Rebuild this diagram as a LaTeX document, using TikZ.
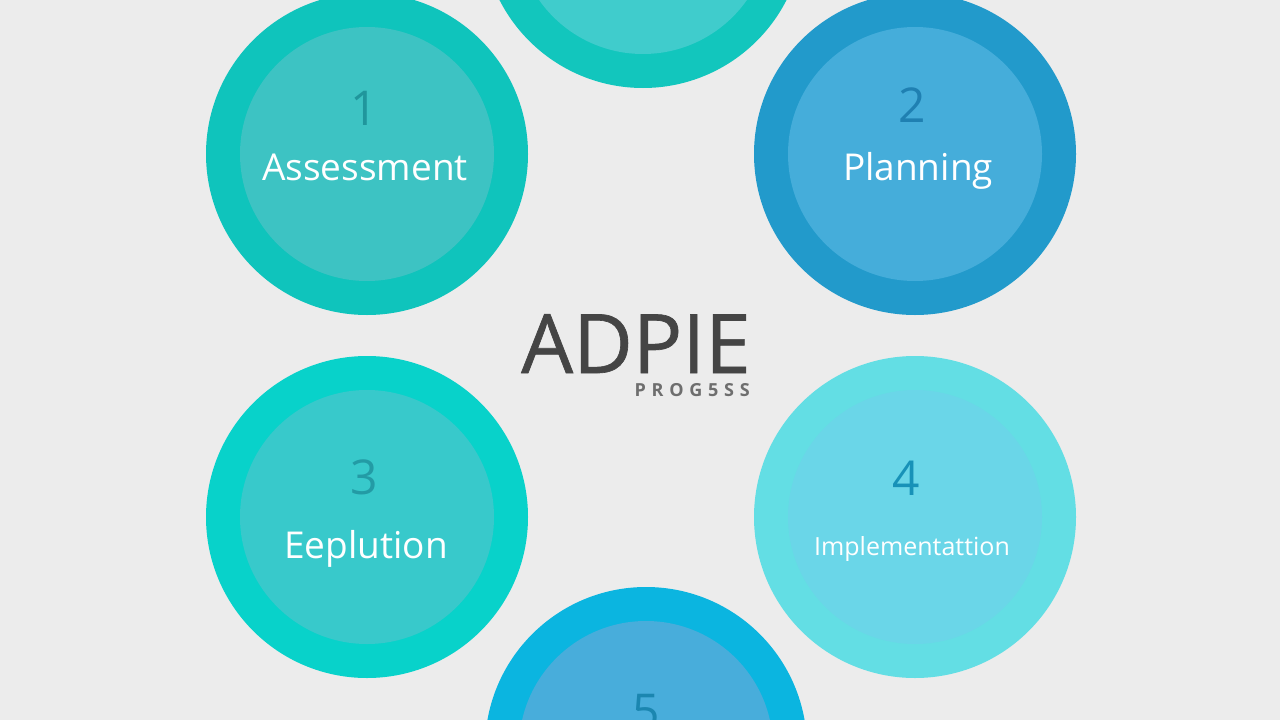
\documentclass[tikz,border=0pt]{standalone}
\usepackage{fontspec}
\setmainfont{Open Sans}
\usepackage{xcolor}
\usepackage{tikz}
\usetikzlibrary{calc}

\definecolor{bgcol}{HTML}{ECECEC}
\definecolor{titlecol}{HTML}{454545}
\definecolor{subcol}{HTML}{6E6E6E}

\begin{document}
\begin{tikzpicture}[x=1pt,y=-1pt,
  ring/.style={circle,minimum size=322pt,inner sep=0pt},
  core/.style={circle,minimum size=254pt,inner sep=0pt},
  num/.style={anchor=base,font=\fontsize{48}{48}\selectfont},
  lbl/.style={anchor=base,text=white,font=\fontsize{37}{37}\selectfont}]
\useasboundingbox (0,0) rectangle (1280,720);
\clip (0,0) rectangle (1280,720);
\fill[bgcol] (0,0) rectangle (1280,720);

% Top circle (cut by the frame)
\node[ring,fill={rgb,255:red,18;green,198;blue,189}] (topring) at (643,-73) {};
\node[core,fill={rgb,255:red,64;green,204;blue,204}] (topcore) at (topring.center) {};

% Step 1
\node[ring,fill={rgb,255:red,15;green,196;blue,188}] (assring) at (367,154) {};
\node[core,fill={rgb,255:red,61;green,195;blue,195}] (asscore) at (assring.center) {};
\node[num,text={rgb,255:red,32;green,150;blue,156}] (assnum) at (364,125) {1};
\node[lbl] (asslbl) at (365,180) {Assessment};

% Step 2
\node[ring,fill={rgb,255:red,34;green,154;blue,203}] (planring) at (915,154) {};
\node[core,fill={rgb,255:red,69;green,173;blue,218}] (plancore) at (planring.center) {};
\node[num,text={rgb,255:red,31;green,128;blue,178}] (plannum) at (912,122) {2};
\node[lbl] (planlbl) at (918,180) {Planning};

% Step 3
\node[ring,fill={rgb,255:red,8;green,210;blue,202}] (evalring) at (367,517) {};
\node[core,fill={rgb,255:red,56;green,201;blue,203}] (evalcore) at (evalring.center) {};
\node[num,text={rgb,255:red,35;green,155;blue,165}] (evalnum) at (364,494) {3};
\node[lbl] (evallbl) at (366,558) {Eeplution};

% Step 4
\node[ring,fill={rgb,255:red,99;green,222;blue,228}] (implring) at (915,517) {};
\node[core,fill={rgb,255:red,106;green,214;blue,232}] (implcore) at (implring.center) {};
\node[num,text={rgb,255:red,24;green,146;blue,184}] (implnum) at (906,495) {4};
\node[anchor=base,text=white,font=\fontsize{25}{25}\selectfont] (impllbl) at (912,555) {Implementattion};

% Step 5 (cut by the frame)
\node[ring,fill={rgb,255:red,11;green,181;blue,224}] (evring) at (646,748) {};
\node[core,fill={rgb,255:red,72;green,173;blue,219}] (evcore) at (evring.center) {};
\node[num,text={rgb,255:red,27;green,134;blue,176}] (evnum) at (646,728) {5};

% Title
\node[anchor=base,inner sep=0pt,text depth=0pt,text=titlecol,font=\fontsize{82}{82}\selectfont\addfontfeatures{FakeBold=0.8}] (title) at (636,373) {ADPIE};
\node[anchor=base east,inner sep=0pt,text=subcol,font=\fontsize{18}{18}\selectfont\bfseries\addfontfeatures{LetterSpace=32}] (subtitle) at (750,396) {PROG5SS};
\end{tikzpicture}
\end{document}
